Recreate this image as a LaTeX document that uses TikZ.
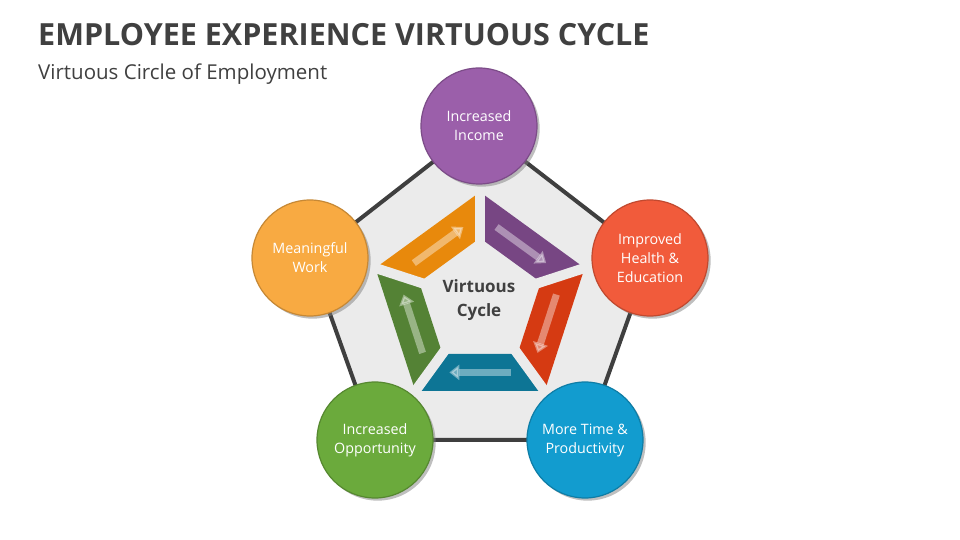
\documentclass[tikz,border=0pt]{standalone}
\usepackage{fontspec}
\setmainfont{Open Sans}
\usetikzlibrary{arrows.meta,calc,shadows}
\definecolor{bgp}{HTML}{EBEBEB}
\definecolor{pline}{HTML}{3F3F3F}
\definecolor{cPur}{HTML}{9B5FAA}\definecolor{dPur}{HTML}{774683}
\definecolor{cRed}{HTML}{F15B3B}\definecolor{dRed}{HTML}{D53A12}
\definecolor{cBlu}{HTML}{129CCF}\definecolor{dBlu}{HTML}{0D7595}
\definecolor{cGrn}{HTML}{6BAA3C}\definecolor{dGrn}{HTML}{548235}
\definecolor{cOra}{HTML}{F8AA42}\definecolor{dOra}{HTML}{E8890C}
\definecolor{txt}{HTML}{404040}
\tikzset{
 circ/.style={circle,minimum size=116pt,draw=#1!80!black,line width=1.2pt,fill=#1,text=white,align=center,font=\fontsize{14.3}{19}\selectfont,drop shadow={}},
 arr/.style={white,opacity=0.4,line width=7pt,-{Triangle[length=10pt,width=15pt]}},
}
\begin{document}
\begin{tikzpicture}[x=1pt,y=1pt]
\useasboundingbox (0,0) rectangle (960,540);
\fill[white] (0,0) rectangle (960,540);
\node[anchor=west,font=\bfseries\fontsize{30.5}{36}\selectfont,text=txt,inner sep=0] (title) at (38,505) {EMPLOYEE EXPERIENCE VIRTUOUS CYCLE};
\node[anchor=west,font=\fontsize{20.5}{24}\selectfont,text=txt,inner sep=0] (sub) at (38,466) {Virtuous Circle of Employment};
\coordinate (ci) at (480,238);
\coordinate (V0) at (479,414);
\coordinate (V1) at (650,282);
\coordinate (V2) at (585,100);
\coordinate (V3) at (375,100);
\coordinate (V4) at (310,282);
\draw[pline,line width=4pt,fill=bgp,line join=round] (V0)--(V1)--(V2)--(V3)--(V4)--cycle;
\foreach \i in {0,...,4}{
 \coordinate (P\i) at ($(ci)+({90-72*\i}:110)$);
 \coordinate (Q\i) at ($(ci)+({90-72*\i}:64)$);
 \coordinate (M\i) at ($(ci)+({90-72*\i}:87)$);}
\foreach \a/\b/\col in {0/1/dPur,1/2/dRed,2/3/dBlu,3/4/dGrn,4/0/dOra}{
 \fill[\col] (P\a)--(P\b)--(Q\b)--(Q\a)--cycle;}
\foreach \i in {0,...,4}{
 \draw[bgp,line width=10pt] ($(ci)+({90-72*\i}:55)$)--($(ci)+({90-72*\i}:122)$);}
\foreach \a/\b in {0/1,1/2,2/3,3/4,4/0}{
 \draw[arr] ($(M\a)!0.2!(M\b)$)--($(M\a)!0.8!(M\b)$);}
\node[font=\bfseries\fontsize{17}{24}\selectfont,text=txt,align=center] (center) at (479,240) {Virtuous\\Cycle};
\node[circ=cPur] (n0) at (V0) {Increased\\Income};
\node[circ=cRed] (n1) at (V1) {Improved\\Health \&\\Education};
\node[circ=cBlu] (n2) at (V2) {More Time \&\\Productivity};
\node[circ=cGrn] (n3) at (V3) {Increased\\Opportunity};
\node[circ=cOra] (n4) at (V4) {Meaningful\\Work};
\end{tikzpicture}
\end{document}
